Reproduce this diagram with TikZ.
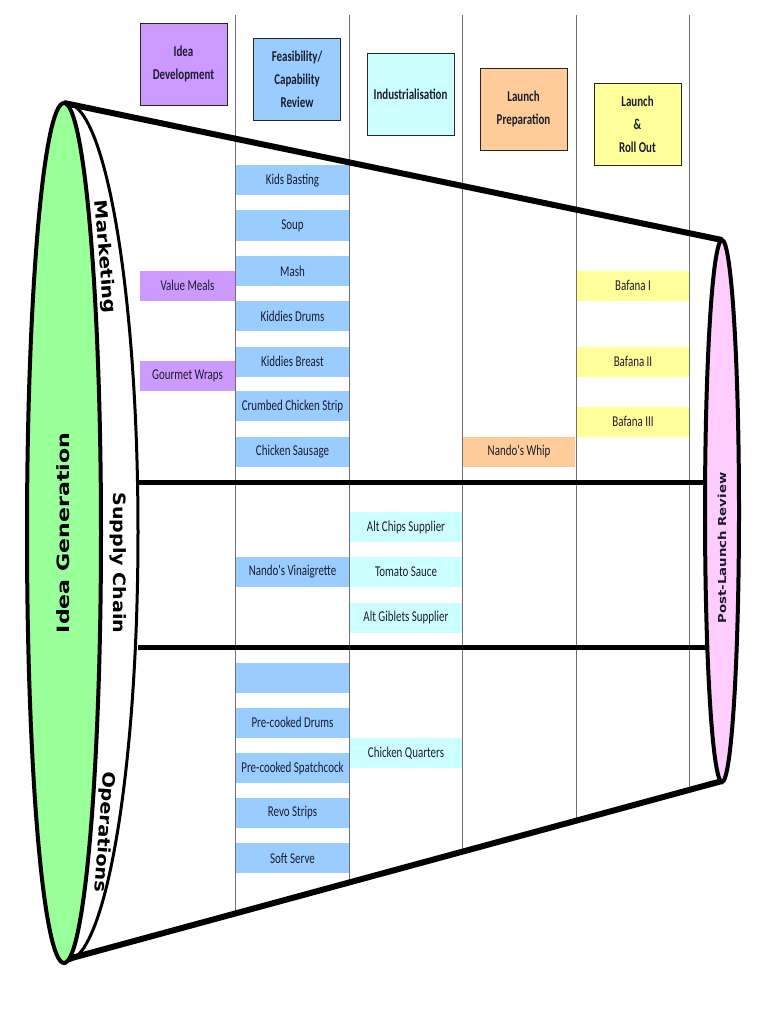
\documentclass[tikz,border=0pt]{standalone}
\usepackage{fontspec}
\setmainfont{Carlito}
\newfontfamily\cfont[FakeStretch=0.73]{Carlito}
\newfontfamily\dvfont{DejaVu Sans}
\definecolor{igreen}{HTML}{99FF99}
\definecolor{ipink}{HTML}{FFCCFF}
\definecolor{ipurple}{HTML}{CC99FF}
\definecolor{iblue}{HTML}{99CCFF}
\definecolor{icyan}{HTML}{CCFFFF}
\definecolor{iorange}{HTML}{FFCC99}
\definecolor{iyellow}{HTML}{FFFF99}
\definecolor{txt}{HTML}{1C1C30}
\definecolor{vgray}{HTML}{707070}
\begin{document}
\begin{tikzpicture}[x=1pt,y=-1pt,
  vline/.style={draw=vgray, line width=0.8pt},
  funnel/.style={draw=black, line width=6pt},
  divider/.style={draw=black, line width=5pt},
  hdr/.style={draw=black!85, line width=0.8pt, minimum width=87pt, minimum height=82pt,
     inner sep=0pt, align=center, text=txt, font=\cfont\bfseries\fontsize{15}{23}\selectfont},
  bar/.style={minimum width=113pt, minimum height=30pt, inner sep=0pt, text=txt,
     font=\cfont\fontsize{15}{17}\selectfont},
  pbar/.style={bar, fill=ipurple, minimum width=95pt},
  bbar/.style={bar, fill=iblue},
  cbar/.style={bar, fill=icyan, minimum width=112pt},
  obar/.style={bar, fill=iorange, minimum width=112pt},
  ybar/.style={bar, fill=iyellow, minimum width=112pt},
  band/.style={text=black, inner sep=0pt, font=\dvfont\bfseries\fontsize{17}{19}\selectfont}
]
\useasboundingbox (0,0) rectangle (768,1024);
\fill[white] (0,0) rectangle (768,1024);

% column separators
\coordinate (v1t) at (235,15);  \coordinate (v1b) at (235,914);
\coordinate (v2t) at (349,15);  \coordinate (v2b) at (349,883);
\coordinate (v3t) at (462,15);  \coordinate (v3b) at (462,852);
\coordinate (v4t) at (576,15);  \coordinate (v4b) at (576,821);
\coordinate (v5t) at (689,15);  \coordinate (v5b) at (689,790);
\foreach \i in {1,...,5} { \draw[vline] (v\i t) -- (v\i b); }

% headers
\node[hdr, fill=ipurple] (h1) at (183.5,64) {Idea\\Development};
\node[hdr, fill=iblue]   (h2) at (297,79)  {Feasibility/\\Capability\\Review};
\node[hdr, fill=icyan]   (h3) at (410.5,94.5) {Industrialisation};
\node[hdr, fill=iorange] (h4) at (523.5,109) {Launch\\Preparation};
\node[hdr, fill=iyellow] (h5) at (637.5,124) {Launch\\\&\\Roll Out};

% marketing items
\node[pbar] (vm) at (187.5,285.5) {Value Meals};
\node[pbar] (gw) at (187.5,376) {Gourmet Wraps};
\node[bbar] (kb) at (292.5,180.5) {Kids Basting};
\node[bbar] (so) at (292.5,225.5) {Soup};
\node[bbar] (ma) at (292.5,271) {Mash};
\node[bbar] (kd) at (292.5,316) {Kiddies Drums};
\node[bbar] (kbr) at (292.5,361.5) {Kiddies Breast};
\node[bbar] (cc) at (292.5,406) {Crumbed Chicken Strip};
\node[bbar] (cs) at (292.5,451.5) {Chicken Sausage};
\node[obar] (nw) at (519,451.5) {Nando's Whip};
\node[ybar] (b1) at (633,285.5) {Bafana I};
\node[ybar] (b2) at (633,361.5) {Bafana II};
\node[ybar] (b3) at (633,421.5) {Bafana III};

% supply chain items
\node[bbar] (nv) at (292.5,572) {Nando's Vinaigrette};
\node[cbar] (ac) at (406,527) {Alt Chips Supplier};
\node[cbar] (ts) at (406,572) {Tomato Sauce};
\node[cbar] (ag) at (406,617.5) {Alt Giblets Supplier};

% operations items
\node[bbar] (bl) at (292.5,677.5) {};
\node[bbar] (pd) at (292.5,722.5) {Pre-cooked Drums};
\node[bbar] (ps) at (292.5,768) {Pre-cooked Spatchcock};
\node[bbar] (rs) at (292.5,813) {Revo Strips};
\node[bbar] (ss) at (292.5,858) {Soft Serve};
\node[cbar] (cq) at (406,753) {Chicken Quarters};

% funnel
\coordinate (tl) at (64,103);
\coordinate (tr) at (722,240);
\coordinate (bl0) at (68,959);
\coordinate (br) at (722,781);
\draw[funnel] (tl) -- (tr);
\draw[funnel] (bl0) -- (br);
\coordinate (d1l) at (138,482); \coordinate (d1r) at (712,482);
\coordinate (d2l) at (138,647); \coordinate (d2r) at (712,647);
\draw[divider] (d1l) -- (d1r);
\draw[divider] (d2l) -- (d2r);
\coordinate (at) at (66,103);
\draw[black, line width=3pt] (at) arc[start angle=90, end angle=-90, x radius=72pt, y radius=429pt];

% ellipses
\draw[fill=igreen, line width=4pt] (64,533) ellipse [x radius=37pt, y radius=430pt];
\draw[fill=ipink, line width=4pt] (722,511) ellipse [x radius=17pt, y radius=271pt];

% labels
\node[inner sep=0pt, rotate=90, text=black, font=\dvfont\bfseries\fontsize{17}{19}\selectfont]
  (ig) at (63,533) {\scalebox{1.3}[1]{Idea Generation}};
\node[inner sep=0pt, rotate=90, text=txt, font=\dvfont\bfseries\fontsize{11}{13}\selectfont]
  (plr) at (722,548) {\scalebox{1.21}[1]{Post-Launch Review}};
\node[band, rotate=-85] (mk) at (104,257) {\scalebox{1.17}[1]{Marketing}};
\node[band, rotate=-90] (sc) at (118,563) {\scalebox{1.12}[1]{Supply Chain}};
\node[band, rotate=-94] (op) at (104,832) {\scalebox{1.14}[1]{Operations}};
\end{tikzpicture}
\end{document}
